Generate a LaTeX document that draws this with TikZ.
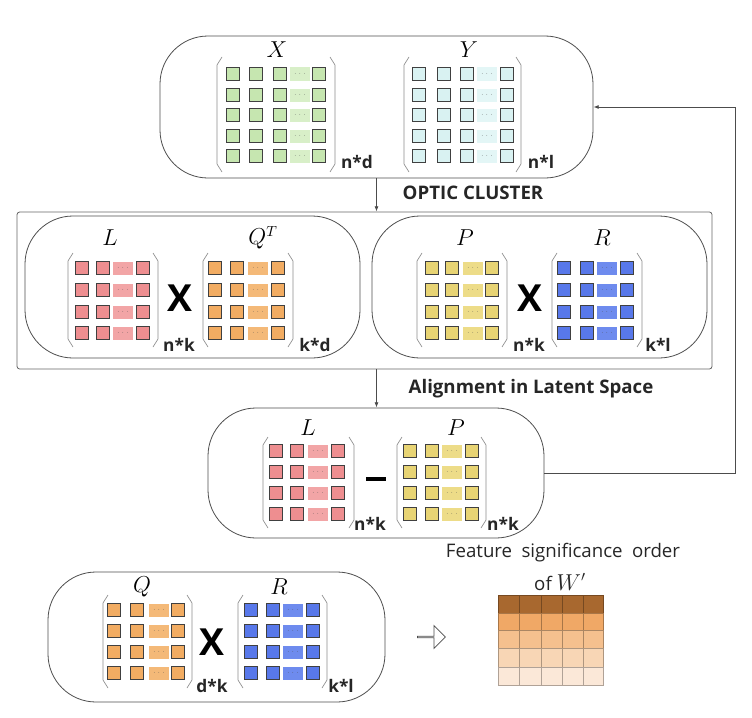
\documentclass[tikz,border=0pt]{standalone}
\usepackage{fontspec}
\newfontfamily\lblfont{Open Sans}
\usetikzlibrary{shapes.arrows,arrows.meta}
\definecolor{cgreen}{HTML}{C6E6B0}\definecolor{cgreenl}{HTML}{D8EFC8}
\definecolor{ccyan}{HTML}{D9F2F2}\definecolor{ccyanl}{HTML}{E3F6F6}
\definecolor{cpink}{HTML}{EE8E90}\definecolor{cpinkl}{HTML}{F2A5A6}
\definecolor{corange}{HTML}{F2AC62}\definecolor{corangel}{HTML}{F4B978}
\definecolor{cyellow}{HTML}{E8D474}\definecolor{cyellowl}{HTML}{EDDC88}
\definecolor{cblue}{HTML}{5878EA}\definecolor{cbluel}{HTML}{6E8BEE}
\definecolor{w1}{HTML}{A8682F}\definecolor{w2}{HTML}{F0A866}\definecolor{w3}{HTML}{F5C08E}
\definecolor{w4}{HTML}{F8D6B5}\definecolor{w5}{HTML}{FBE8D8}
\tikzset{
 sq/.style={draw=black!75,line width=0.8pt},
 br/.style={draw=black!45,line width=0.5pt},
 box/.style={draw=black!70,line width=0.6pt,rounded corners=36pt,inner sep=0},
 rbox/.style={draw=black!60,line width=0.6pt,rounded corners=2pt,inner sep=0},
 lbl/.style={font=\lblfont\bfseries\fontsize{13}{13}\selectfont,text=black!85,inner sep=0},
 mlbl/.style={font=\fontsize{16}{16}\selectfont,inner sep=0},
 ttl/.style={font=\lblfont\bfseries\fontsize{14}{14}\selectfont,text=black!85,inner sep=0},
 times/.style={font=\lblfont\bfseries\fontsize{28}{28}\selectfont,inner sep=0},
 conn/.style={draw=black!70,line width=0.6pt},
 arr/.style={conn,-{Latex[length=4pt,width=3pt]}},
}
% cols, dotx, rows, fill, dotfill, left x, right x, top, bottom
\newcommand\mymat[9]{%
 \foreach \r in {#3}{%
  \foreach \c in {#1}{\draw[sq,fill=#4] (\c-6.5,\r-6.5) rectangle (\c+6.5,\r+6.5);}
  \fill[#5] (#2-10,\r-6.5) rectangle (#2+10,\r+6.5);
  \node[inner sep=0,font=\fontsize{4}{4}\selectfont,text=black!70] at (#2,\r) {$\cdots$};
 }
 \draw[br] (#6+5,#8) -- (#6,#8+8) -- (#6,#9-8) -- (#6+5,#9);
 \draw[br] (#7-5,#8) -- (#7,#8+8) -- (#7,#9-8) -- (#7-5,#9);
}
\begin{document}
\begin{tikzpicture}[x=0.75pt,y=-0.75pt]
\useasboundingbox (0,0) rectangle (752,717);
% boxes
\node[box,minimum width=433*0.75pt,minimum height=142*0.75pt] (top) at (376.5,107) {};
\node[rbox,minimum width=695*0.75pt,minimum height=157*0.75pt] (mid) at (364.5,290.5) {};
\node[box,minimum width=335*0.75pt,minimum height=142*0.75pt] (ml) at (192.5,287) {};
\node[box,minimum width=335*0.75pt,minimum height=142*0.75pt] (mr) at (539.5,287) {};
\node[box,minimum width=336*0.75pt,minimum height=130*0.75pt] (cen) at (376,473) {};
\node[box,minimum width=337*0.75pt,minimum height=130*0.75pt] (bot) at (216.5,637) {};
% top matrices
\mymat{233,256,280,319}{300}{74,95,115,136,156}{cgreen}{cgreenl}{217}{335}{57}{172}
\node[mlbl] (lx) at (277,50) {$X$};
\node[lbl] (nd) at (357,162) {n*d};
\mymat{419,444,467,507}{487}{74,95,115,136,156}{ccyan}{ccyanl}{404}{521}{57}{172}
\node[mlbl] (ly) at (469,50) {$Y$};
\node[lbl] (nl) at (541,162) {n*l};
\node[ttl] (optic) at (473,193) {OPTIC CLUSTER};
% middle left
\mymat{82,103,143}{123}{268,290,312,333}{cpink}{cpinkl}{68}{158}{253}{347}
\node[mlbl] (ll) at (110,238) {$L$};
\node[times] (x1) at (180,298) {X};
\node[lbl] (nk1) at (179,345) {n*k};
\mymat{215,237,278}{258}{268,290,312,333}{corange}{corangel}{203}{293}{253}{347}
\node[mlbl] (lq) at (263,238) {$Q^T$};
\node[lbl] (kd) at (315,345) {k*d};
% middle right
\mymat{432,452,492}{473}{268,290,312,333}{cyellow}{cyellowl}{417}{507}{253}{347}
\node[mlbl] (lp) at (465,238) {$P$};
\node[times] (x2) at (530,298) {X};
\node[lbl] (nk2) at (529,345) {n*k};
\mymat{564,587,627}{607}{268,290,312,333}{cblue}{cbluel}{552}{642}{253}{347}
\node[mlbl] (lr) at (602,238) {$R$};
\node[lbl] (kl) at (658,345) {k*l};
\node[ttl] (align) at (531,389) {Alignment in Latent Space};
% centre box
\mymat{276,297,338}{318}{451,472,493,514}{cpink}{cpinkl}{263}{354}{437}{528}
\node[mlbl] (ll2) at (308,428) {$L$};
\draw[line width=2.6pt] (366,479) -- (386,479);
\node[lbl] (nk3) at (370,524) {n*k};
\mymat{410,432,472}{452}{451,472,493,514}{cyellow}{cyellowl}{397}{486}{437}{528}
\node[mlbl] (lp2) at (456,428) {$P$};
\node[lbl] (nk4) at (503,524) {n*k};
% bottom box
\mymat{114,137,178}{159}{610,631,652,673}{corange}{corangel}{103}{192}{595}{688}
\node[mlbl] (lq2) at (142,587) {$Q$};
\node[times] (x3) at (212,642) {X};
\node[lbl] (dk) at (212,686) {d*k};
\mymat{251,273,313}{293}{610,631,652,673}{cblue}{cbluel}{238}{327}{595}{688}
\node[mlbl] (lr2) at (279,587) {$R$};
\node[lbl] (kl2) at (341,686) {k*l};
% hollow arrow
\node[single arrow,draw=black!70,fill=white,line width=0.6pt,minimum width=17pt,minimum height=21pt,single arrow head extend=4pt,inner sep=0] (harr) at (431,637) {};
% W' table
\node[font=\lblfont\fontsize{14}{14}\selectfont,text=black!85,inner sep=0] (feat) at (563,553) {Feature\enspace significance\enspace order};
\node[font=\lblfont\fontsize{14}{14}\selectfont,text=black!85,inner sep=0] (ofw) at (560,582) {of \fontsize{16}{16}\selectfont$W'$};
\foreach \yt/\yb/\cc in {595/613/w1,613/630/w2,630/648/w3,648/667/w4,667/685/w5}{
  \foreach \xl/\xr in {498/519,519/541,541/562,562/583,583/603}{
    \draw[fill=\cc,draw=black!30!\cc,line width=0.5pt] (\xl,\yt) rectangle (\xr,\yb);}}
% connectors
\coordinate (fb1) at (735,473);
\coordinate (fb2) at (735,107);
\draw[arr] (top.south) -- (top.south |- mid.north);
\draw[arr] (top.south |- mid.south) -- (top.south |- cen.north);
\draw[arr] (cen.east) -- (fb1) -- (fb2) -- (top.east);
\end{tikzpicture}
\end{document}
